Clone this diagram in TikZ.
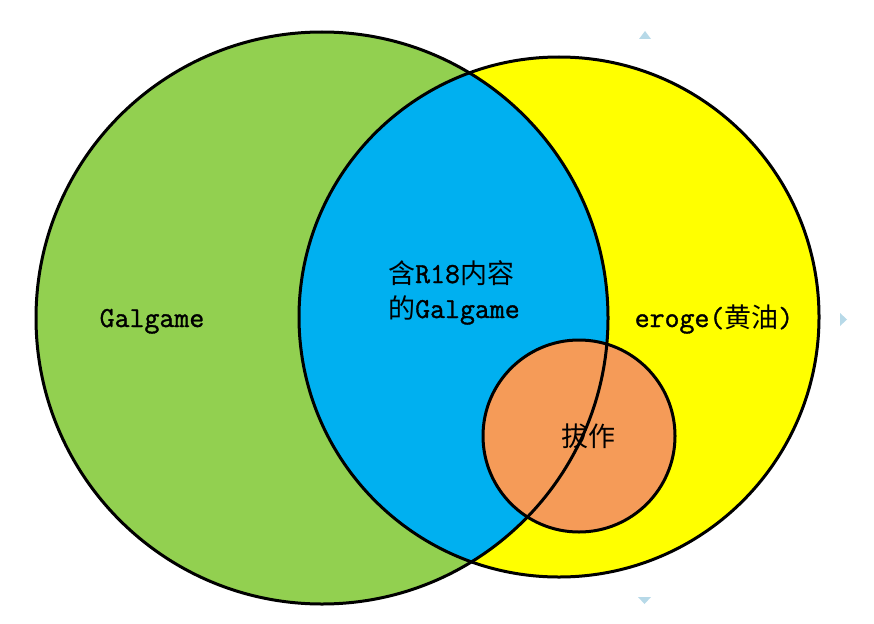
\documentclass[tikz,border=0pt]{standalone}
\usepackage{fontspec}
\setmainfont{Latin Modern Mono}[FakeBold=1.2]
\newfontfamily\cjk{Noto Sans CJK SC}
\definecolor{cgreen}{HTML}{92D050}
\definecolor{cblue}{HTML}{00B0F0}
\definecolor{cyellow}{HTML}{FFFF00}
\definecolor{corange}{HTML}{F59B58}
\definecolor{ctri}{HTML}{B7D9E8}
\tikzset{
  outline/.style={draw=black, line width=3pt},
  lbl/.style={inner sep=0pt, font=\fontsize{29}{35}\selectfont},
  cj/.style={inner sep=0pt, font=\fontsize{27}{32}\cjk},
  marker/.style={fill=ctri, draw=none}
}
\newcommand{\zh}[1]{{\cjk\fontsize{27}{32}\selectfont #1}}
\begin{document}
\begin{tikzpicture}[x=1pt,y=-1pt]
\useasboundingbox (0,0) rectangle (874,623);
% fills
\fill[cgreen] (322,318) circle (286);
\fill[cyellow] (559,317) circle (260);
\begin{scope}
  \clip (322,318) circle (286);
  \fill[cblue] (559,317) circle (260);
\end{scope}
\fill[corange] (579,436) circle (96);
% outlines
\draw[outline] (322,318) circle (286);
\draw[outline] (559,317) circle (260);
\draw[outline] (579,436) circle (96);
% labels
\node[lbl, anchor=base] (gal) at (152,327) {Galgame};
\node[lbl, anchor=base west] (r18) at (388,283) {\zh{含}R18\zh{内容}};
\node[lbl, anchor=base west] (galr) at (388,318) {\zh{的}Galgame};
\node[lbl, anchor=base] (ero) at (714,327) {eroge(\zh{黄油})};
\node[cj] (nuki) at (588,436) {拔作};
% small markers
\fill[marker] (639,39) -- (651,39) -- (645,31) -- cycle;
\fill[marker] (840,313) -- (840,326) -- (847,319.5) -- cycle;
\fill[marker] (638,597) -- (651,597) -- (644.5,604) -- cycle;
\end{tikzpicture}
\end{document}
